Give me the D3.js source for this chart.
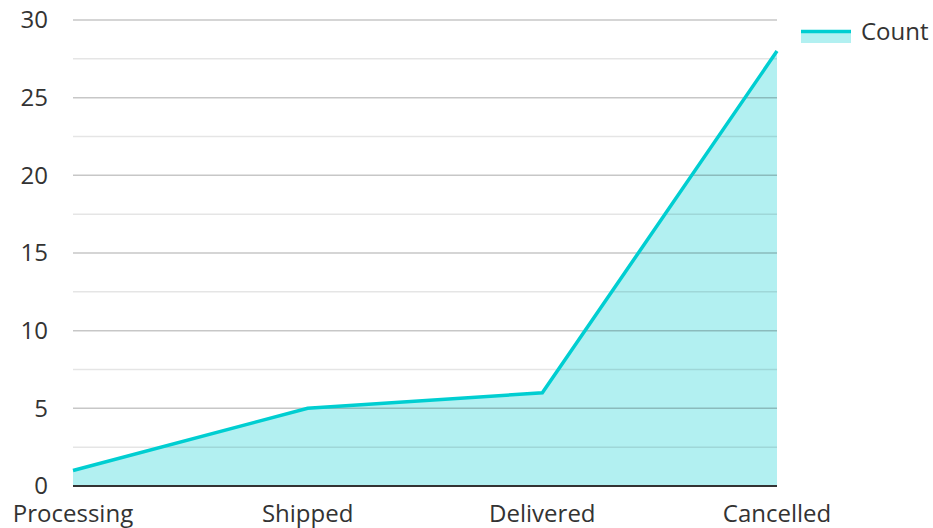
<!DOCTYPE html>
<html>
<head>
<meta charset="utf-8">
<script src="https://cdn.jsdelivr.net/npm/d3@7"></script>
<style>
  body { margin: 0; background: #fff; }
  text { font-family: "Open Sans", "Noto Sans", sans-serif; fill: #333; }
</style>
</head>
<body>
<svg id="chart" width="933" height="528"></svg>
<script>
// order statuses and their counts
const categories = ['Processing', 'Shipped', 'Delivered', 'Cancelled']
const counts = [1, 5, 6, 28]
const majorTicks = [0, 5, 10, 15, 20, 25, 30]
const minorTicks = [2.5, 7.5, 12.5, 17.5, 22.5, 27.5]

const svg = d3.select('#chart')
const plotLeft = 73, plotRight = 777, plotTop = 20, plotBottom = 486
const color = '#00ced1'

const x = d3.scalePoint().domain(categories).range([plotLeft, plotRight]).padding(0)
const y = d3.scaleLinear().domain([0, 30]).range([plotBottom, plotTop])

const data = categories.map((c, i) => ({ cat: c, val: counts[i] }))

// area first, grid on top of it
svg.append('path')
  .datum(data)
  .attr('fill', color)
  .attr('fill-opacity', 0.3)
  .attr('d', d3.area().x(d => x(d.cat)).y0(y(0)).y1(d => y(d.val)))

svg.selectAll('.minor')
  .data(minorTicks)
  .enter().append('line')
  .attr('x1', plotLeft).attr('x2', plotRight)
  .attr('y1', d => y(d)).attr('y2', d => y(d))
  .attr('stroke', '#000').attr('stroke-opacity', 0.1).attr('stroke-width', 1.5)

svg.selectAll('.major')
  .data(majorTicks.filter(d => d > 0))
  .enter().append('line')
  .attr('x1', plotLeft).attr('x2', plotRight)
  .attr('y1', d => y(d)).attr('y2', d => y(d))
  .attr('stroke', '#000').attr('stroke-opacity', 0.22).attr('stroke-width', 1.5)

svg.append('line')
  .attr('x1', plotLeft).attr('x2', plotRight)
  .attr('y1', y(0)).attr('y2', y(0))
  .attr('stroke', '#333').attr('stroke-width', 2)

svg.append('path')
  .datum(data)
  .attr('fill', 'none')
  .attr('stroke', color)
  .attr('stroke-width', 3.5)
  .attr('d', d3.line().x(d => x(d.cat)).y(d => y(d.val)))

// y labels
svg.selectAll('.ylab')
  .data(majorTicks)
  .enter().append('text')
  .attr('x', 48)
  .attr('y', d => y(d))
  .attr('dy', '0.35em')
  .attr('text-anchor', 'end')
  .attr('font-size', 24)
  .text(d => d)

// x labels
svg.selectAll('.xlab')
  .data(categories)
  .enter().append('text')
  .attr('x', d => x(d))
  .attr('y', 522)
  .attr('text-anchor', 'middle')
  .attr('font-size', 24)
  .text(d => d)

// legend
const lg = svg.append('g').attr('transform', 'translate(801,30)')
lg.append('rect').attr('width', 50).attr('height', 13)
  .attr('fill', color).attr('fill-opacity', 0.3)
lg.append('line').attr('x1', 0).attr('x2', 50).attr('y1', 1.5).attr('y2', 1.5)
  .attr('stroke', color).attr('stroke-width', 3.5)
lg.append('text').attr('x', 60).attr('y', 10).attr('font-size', 24).text('Count')
</script>
</body>
</html>
